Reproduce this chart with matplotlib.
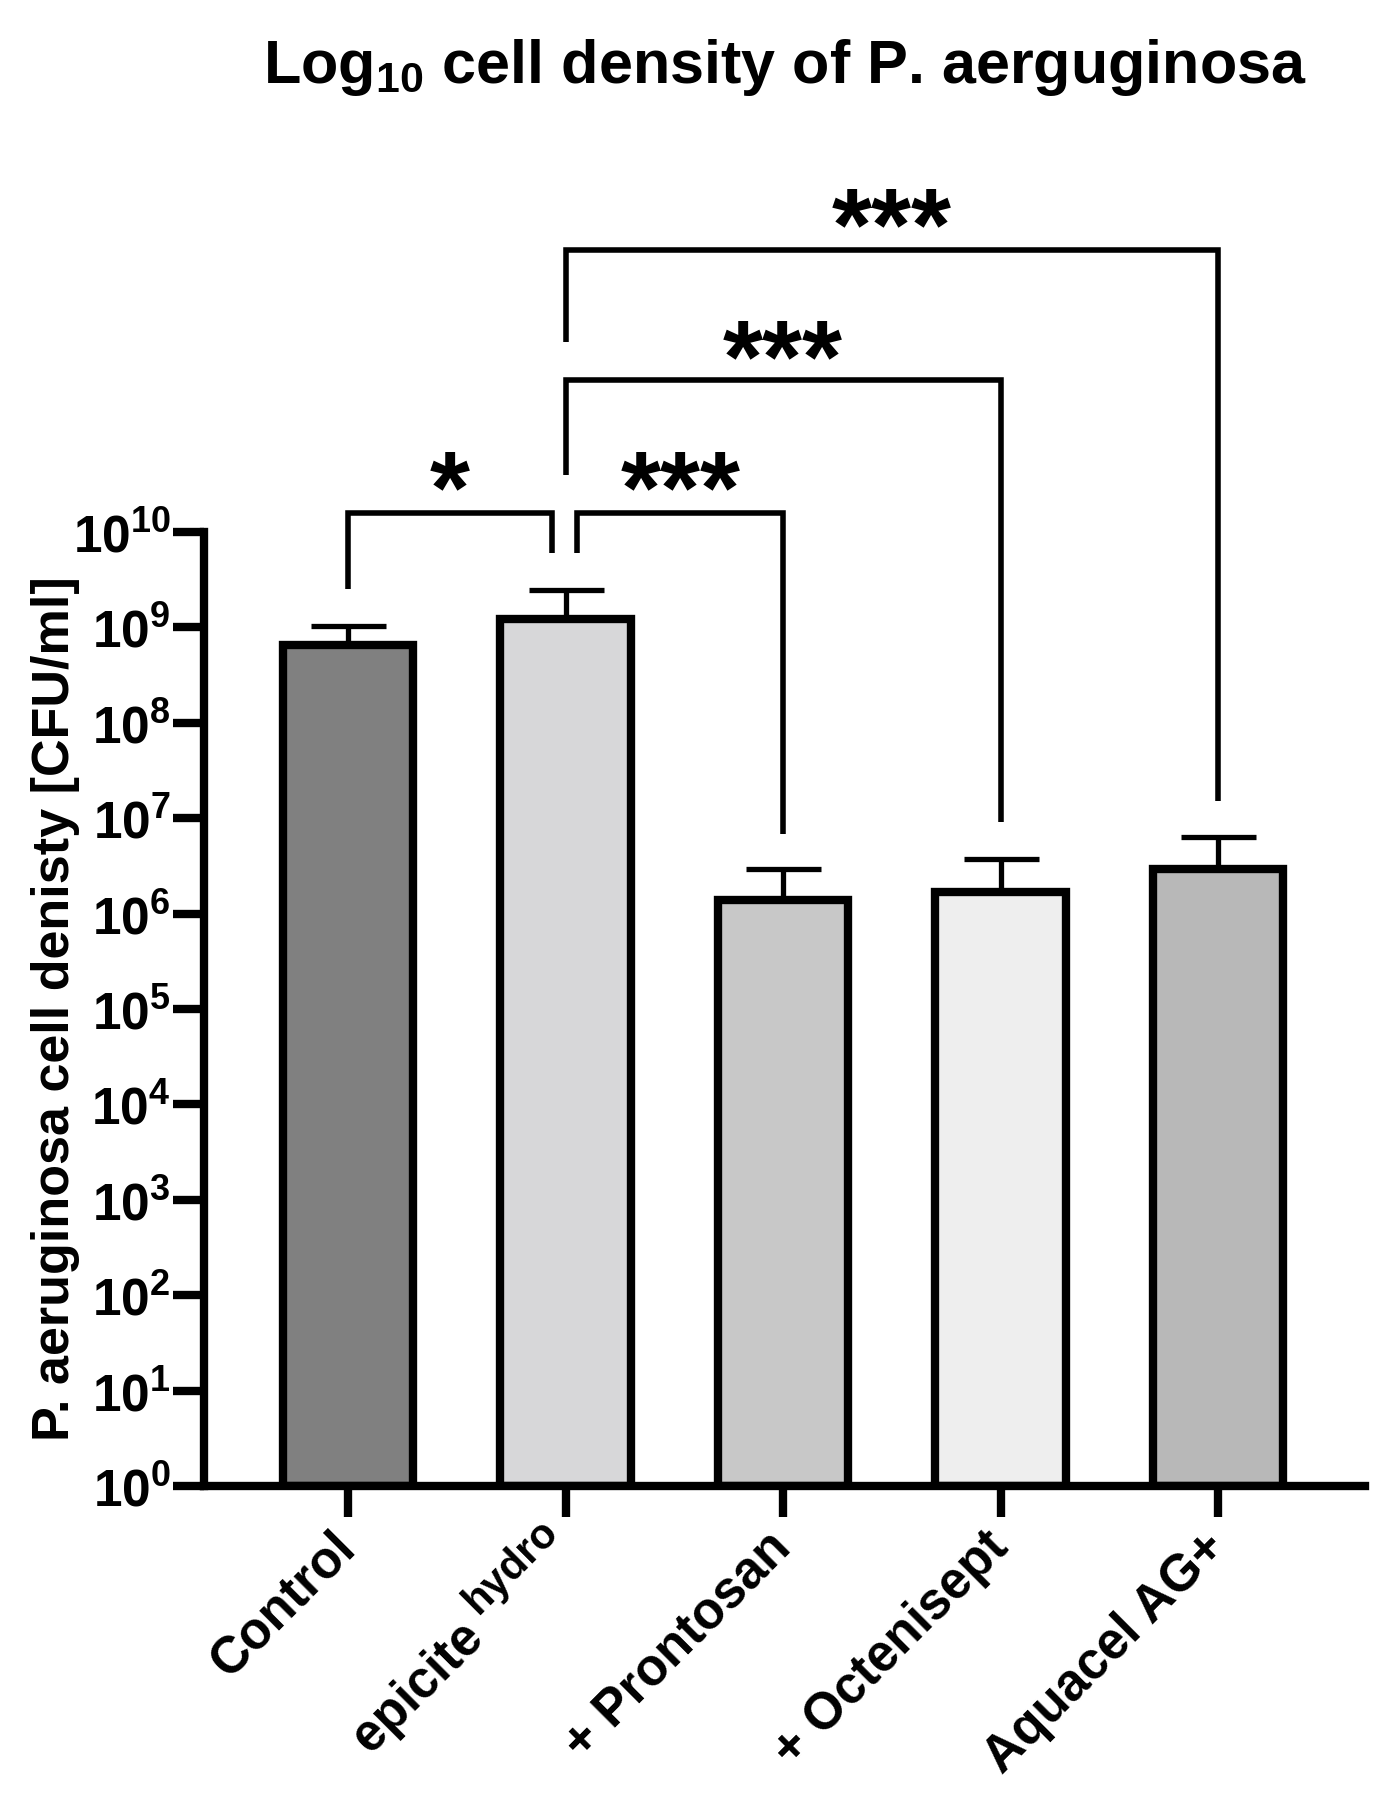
import matplotlib
matplotlib.use("Agg")
import matplotlib.pyplot as plt
import numpy as np

# ---------------- data ----------------
categories = ["Control", "epicite", "+ Prontosan", "+ Octenisept", "Aquacel AG+"]
category_superscripts = ["", "hydro", "", "", ""]
means = [6.5e8, 1.23e9, 1.4e6, 1.67e6, 2.95e6]
upper = [1.03e9, 2.46e9, 2.9e6, 3.7e6, 6.3e6]
bar_colors = ["#808080", "#d7d7d9", "#c8c8c8", "#eeeeee", "#b8b8b8"]
ytick_exponents = list(range(0, 11))

# significance comparisons: (group a, group b, label)
comparisons = [(0, 1, "*"), (1, 2, "***"), (1, 3, "***"), (1, 4, "***")]
# bracket drawing geometry: dx_a, dx_b, log10 of bar, leg a end, leg b end, star centre
bracket_layout = [
    (0.0, -0.064, 10.20, 9.40, 9.78, 10.70),
    (0.055, 0.0, 10.20, 9.78, 6.83, 10.70),
    (0.0, 0.0, 11.59, 10.60, 6.96, 12.08),
    (0.0, 0.0, 12.96, 11.99, 7.18, 13.46),
]

title = "Log$_{\\mathbf{10}}$ cell density of P. aerguginosa"
ylabel = "P. aeruginosa cell denisty [CFU/ml]"

# ---------------- style ----------------
plt.rcParams["font.family"] = ["Liberation Sans", "DejaVu Sans"]
plt.rcParams["font.weight"] = "bold"
plt.rcParams["mathtext.fontset"] = "custom"
plt.rcParams["mathtext.rm"] = "Liberation Sans:bold"
plt.rcParams["mathtext.bf"] = "Liberation Sans:bold"
plt.rcParams["mathtext.it"] = "Liberation Sans:bold"

SPINE_LW = 6.0
XLAB_FS = 37
SUP_FS = 30
STAR_FS = 74

fig = plt.figure(figsize=(13.86, 18.08), dpi=100)
ax = fig.add_axes([0.1472, 0.1775, 0.8377, 0.7388])

x = np.arange(len(categories))
ax.bar(x, means, width=0.6, bottom=1, color=bar_colors, edgecolor="black",
       linewidth=SPINE_LW, zorder=3)
err_up = np.array(upper) - np.array(means)
ax.errorbar(x, means, yerr=[np.zeros(len(x)), err_up], fmt="none", ecolor="black",
            elinewidth=3.8, capsize=27, capthick=3.8, zorder=2)

ax.set_yscale("log")
ax.set_ylim(1, 1e14)
ax.set_xlim(-0.662, 4.676)

ax.spines["top"].set_visible(False)
ax.spines["right"].set_visible(False)
for s in ("left", "bottom"):
    ax.spines[s].set_linewidth(SPINE_LW)
    ax.spines[s].set_capstyle("projecting")
    ax.spines[s].set_zorder(4)
ax.spines["left"].set_bounds(1, 1e10)

ax.set_yticks([10.0 ** e for e in ytick_exponents])
ax.set_yticklabels([r"$\mathbf{10^{%d}}$" % e for e in ytick_exponents], fontsize=37)
ax.yaxis.set_minor_locator(matplotlib.ticker.NullLocator())
ax.tick_params(axis="y", length=22, width=SPINE_LW, pad=2)
ax.tick_params(axis="x", length=22, width=SPINE_LW, labelbottom=False)
ax.set_xticks(x)

# x category labels (rotated 45 degrees, right end at the tick)
renderer = fig.canvas.get_renderer()
ang = np.deg2rad(45)
base_dy = -38.0
raise_pt = 14.0
for xi, lab, sup in zip(x, categories, category_superscripts):
    if sup:
        ax.annotate(sup, xy=(xi, 0), xycoords=("data", "axes fraction"),
                    xytext=(-raise_pt * np.sin(ang), base_dy + raise_pt * np.cos(ang)),
                    textcoords="offset points", rotation=45, ha="right",
                    va="center", rotation_mode="anchor", fontsize=SUP_FS,
                    fontweight="bold", annotation_clip=False)
        tmp = fig.text(0, 0, sup + " ", fontsize=SUP_FS, fontweight="bold")
        w_pt = tmp.get_window_extent(renderer).width * 72.0 / fig.dpi
        tmp.remove()
        dx, dy = -w_pt * np.cos(ang), base_dy - w_pt * np.sin(ang)
    else:
        dx, dy = 0.0, base_dy
    ax.annotate(lab, xy=(xi, 0), xycoords=("data", "axes fraction"),
                xytext=(dx, dy), textcoords="offset points", rotation=45,
                ha="right", va="center", rotation_mode="anchor",
                fontsize=XLAB_FS, fontweight="bold", annotation_clip=False)

# significance brackets
star_centre_pt = 0.56 * STAR_FS  # asterisk ink centre above baseline
for (a, b, lab), (dxa, dxb, yb, ya, yb2, yt) in zip(comparisons, bracket_layout):
    xa, xb = a + dxa, b + dxb
    ax.plot([xa, xa, xb, xb], [10 ** ya, 10 ** yb, 10 ** yb, 10 ** yb2],
            color="black", lw=4.0, solid_joinstyle="miter", solid_capstyle="butt",
            clip_on=False, zorder=5)
    ax.annotate(lab, xy=((xa + xb) / 2, 10 ** yt), xycoords="data",
                xytext=(0, -star_centre_pt), textcoords="offset points",
                ha="center", va="baseline", fontsize=STAR_FS, fontweight="bold",
                annotation_clip=False)

fig.text(0.04, 0.442, ylabel, rotation=90, ha="center", va="center",
         fontsize=37.5, fontweight="bold")
fig.text(0.566, 0.954, title, ha="center", va="baseline", fontsize=44, fontweight="bold")

fig.savefig("out.png", dpi=100, facecolor="white")
